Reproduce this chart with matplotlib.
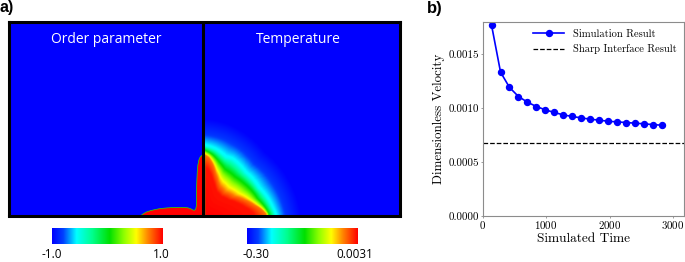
import numpy as np
import matplotlib
matplotlib.use("Agg")
import matplotlib.pyplot as plt
from matplotlib.colors import LinearSegmentedColormap
from matplotlib.patches import Polygon
from matplotlib.ticker import FormatStrFormatter

plt.rcParams['font.family'] = 'cmr10'
plt.rcParams['axes.formatter.use_mathtext'] = True

# ---------- Data: panel b ----------
sim_time = [140, 281, 422, 563, 704, 845, 986, 1127, 1268, 1409,
            1550, 1691, 1832, 1973, 2114, 2255, 2396, 2537, 2678, 2819]
sim_velocity = [0.001766, 0.001333, 0.001191, 0.001107, 0.001055, 0.001014,
                0.000984, 0.000959, 0.000937, 0.000922, 0.000909, 0.000897,
                0.000888, 0.000878, 0.000872, 0.000866, 0.000860, 0.000854,
                0.000847, 0.000841]
sharp_velocity = 0.00068
x_ticks = [0, 1000, 2000, 3000]
y_ticks = [0.0, 0.0005, 0.0010, 0.0015]

# ---------- Data: panel a (pixel coords) ----------
# dendrite outline, left half (order parameter)
dendrite_x = [141, 143, 146, 150, 155, 160, 167, 175, 183, 188, 191, 193, 194.5,
              195.8, 196.5, 196.6, 196.7, 197.0, 197.4, 198.0, 199.0, 200.3, 201.8,
              203.0, 205.0, 205.0]
dendrite_y = [215.5, 214, 212.2, 210.8, 209.6, 208.6, 207.9, 207.4, 207.4, 207.8,
              208.8, 210.0, 210.3, 209.2, 206.0, 200.0, 190.0, 180.0, 172.0, 165.0,
              160.0, 157.0, 155.5, 155.2, 155.5, 215.5]
# temperature contour radii (px from the corner) versus angle (deg)
theta_red = [0, 5, 10, 19, 30, 46, 60, 66, 74, 80, 85, 90]
r_red = [62, 57, 51, 43, 35, 30.5, 32, 35, 42, 50, 56, 59]
theta_green = [0, 4, 16, 37, 50, 65, 73, 82, 90]
r_green = [65, 63, 56, 51, 49, 50, 54, 60, 64]
theta_cyan = [0, 6, 25, 45, 63, 69, 80, 90]
r_cyan = [71, 68, 60, 58, 61, 60, 65, 68]
theta_out = [0, 20, 45, 60, 75, 90]
r_out = [82, 77, 72, 75, 78, 80]
corner = (204.0, 214.0)

colorbar_ticks_left = ['-1.0', '1.0']
colorbar_ticks_right = ['-0.30', '0.0031']

rainbow = LinearSegmentedColormap.from_list('rainbow_pv', [
    (0.0, '#0000ff'), (0.10, '#0040ff'), (0.22, '#00ffff'), (0.36, '#00ff90'),
    (0.52, '#00e000'), (0.65, '#90ff00'), (0.76, '#ffff00'), (0.87, '#ff8000'),
    (1.0, '#ff0000')])

# ---------- Temperature field ----------
gx = np.arange(203, 400.5, 0.5)
gy = np.arange(22, 215.5, 0.5)
X, Y = np.meshgrid(gx, gy)
dx = X - corner[0]
dy = corner[1] - Y
r = np.hypot(dx, dy)
th = np.degrees(np.arctan2(np.clip(dy, 0, None), np.clip(dx, 0, None)))
rr = [0.8 * np.interp(th, theta_red, r_red),
      np.interp(th, theta_red, r_red),
      np.interp(th, theta_green, r_green),
      np.interp(th, theta_cyan, r_cyan),
      np.interp(th, theta_out, r_out)]
rr = [np.zeros_like(r)] + rr + [rr[-1] + 15]
vals = [1.0, 0.98, 0.88, 0.5, 0.24, 0.08, 0.0]
temp = np.zeros_like(r)
for k in range(len(rr) - 1):
    m = (r >= rr[k]) & (r < rr[k + 1])
    f = (r - rr[k]) / np.maximum(rr[k + 1] - rr[k], 1e-6)
    temp = np.where(m, vals[k] + f * (vals[k + 1] - vals[k]), temp)

# ---------- Plotting ----------
fig = plt.figure(figsize=(6.85, 2.62), dpi=100)

ax = fig.add_axes([8.7 / 685, 1 - 215.5 / 262, 391 / 685, 193.5 / 262])
ax.imshow(np.zeros((2, 2)), cmap=rainbow, vmin=0, vmax=1,
          extent=(8.7, 203, 215.5, 22), aspect='auto')
ax.imshow(temp, cmap=rainbow, vmin=0, vmax=1, extent=(203, 400, 215.5, 22),
          aspect='auto', interpolation='bilinear')
ax.add_patch(Polygon(np.column_stack([dendrite_x, dendrite_y]), closed=True,
                     facecolor=rainbow(1.0), edgecolor=rainbow(0.55), lw=0.5))
ax.set_xlim(8.7, 400)
ax.set_ylim(215.5, 22)
ax.axvline(203, color='black', lw=2.2)
for s in ax.spines.values():
    s.set_linewidth(2.2)
    s.set_color('black')
ax.set_xticks([])
ax.set_yticks([])
ax.text(106, 40, 'Order parameter', color='white', fontsize=10,
        family='Open Sans', ha='center', va='center')
ax.text(299, 40, 'Temperature', color='white', fontsize=10,
        family='Open Sans', ha='center', va='center')

grad = np.linspace(0, 1, 256)[None, :]
for left, labels, centers in [(52.3, colorbar_ticks_left, (52.2, 161)),
                              (247.3, colorbar_ticks_right, (256, 355))]:
    cax = fig.add_axes([left / 685, 1 - 243.5 / 262, 110.5 / 685, 15.2 / 262])
    cax.imshow(grad, cmap=rainbow, aspect='auto')
    cax.axis('off')
    for lab, cx in zip(labels, centers):
        fig.text(cx / 685, 1 - 254 / 262, lab, fontsize=8.5, family='Open Sans',
                 ha='center', va='center')

fig.text(0.0, 0.999, 'a)', fontsize=11.5, fontweight='bold',
         family='Liberation Sans', ha='left', va='top')
fig.text(426.5 / 685, 1.0 - 1.5 / 262, 'b)', fontsize=12, fontweight='bold',
         family='Liberation Sans', ha='left', va='top')

# panel b
ax2 = fig.add_axes([482.7 / 685, 1 - 216 / 262, 201.3 / 685, 194.3 / 262])
ax2.plot(sim_time, sim_velocity, '-o', color='blue', ms=4.3, lw=1.2,
         label='Simulation Result')
ax2.axhline(sharp_velocity, color='black', ls='--', lw=0.9,
            label='Sharp Interface Result')
ax2.set_xlim(0, 3170)
ax2.set_ylim(0, 0.0018)
ax2.set_xticks(x_ticks)
ax2.set_yticks(y_ticks)
ax2.yaxis.set_major_formatter(FormatStrFormatter('%.4f'))
ax2.tick_params(length=1.5, width=0.6, color='#8c8c8c', pad=1, labelsize=7.9)
for s in ax2.spines.values():
    s.set_color('#8c8c8c')
    s.set_linewidth(0.8)
ax2.set_xlabel('Simulated Time', fontsize=9.6, labelpad=1)
ax2.set_ylabel('Dimensionless Velocity', fontsize=9.4, labelpad=3)
ax2.legend(loc='upper right', frameon=False, prop={'size': 7.6},
           handlelength=3.0, handletextpad=0.8, labelspacing=0.55,
           borderaxespad=0.3)

fig.savefig('out.png', dpi=100)
